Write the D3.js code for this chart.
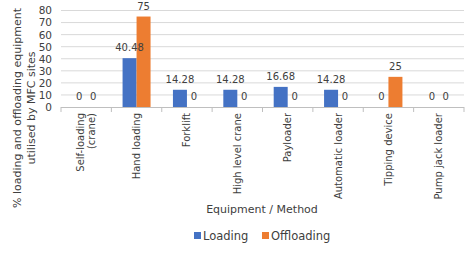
<!DOCTYPE html>
<html><head><meta charset="utf-8">
<script src="https://cdn.jsdelivr.net/npm/d3@7"></script>
<style>body{margin:0;background:#fff}svg{display:block}text{font-family:"DejaVu Sans",sans-serif;fill:#404040}</style>
</head><body><svg id="c" width="474" height="254"></svg>
<script>
const categories = [["Self-loading","(crane)"],["Hand loading"],["Forklift"],["High level crane"],["Payloader"],["Automatic loader"],["Tipping device"],["Pump jack loader"]];
const loading = [0, 40.48, 14.28, 14.28, 16.68, 14.28, 0, 0];
const offloading = [0, 75, 0, 0, 0, 0, 25, 0];
const yTicks = [0,10,20,30,40,50,60,70,80];
const seriesNames = ["Loading","Offloading"];
const colors = ["#4472C4","#ED7D31"];

const svg = d3.select("#c");
const x0 = 61, x1 = 464, yTop = 10.5, yBot = 107;
const ids = categories.map((d,i)=>i);
const x = d3.scaleBand().domain(ids).range([x0,x1]);
const xs = d3.scaleBand().domain([0,1]).range([0, x.bandwidth()]).paddingInner(0).paddingOuter(0.8);
const y = d3.scaleLinear().domain([0,80]).range([yBot,yTop]);

// gridlines
svg.append("g").selectAll("line").data(yTicks.slice(1)).join("line")
  .attr("x1",x0).attr("x2",x1).attr("y1",d=>y(d)).attr("y2",d=>y(d))
  .attr("stroke","#d9d9d9").attr("stroke-width",1);

// y axis
const ya = svg.append("g").attr("transform",`translate(${x0},0)`)
  .call(d3.axisLeft(y).tickValues(yTicks).tickSize(0).tickPadding(9));
ya.select(".domain").remove();
ya.selectAll("text").attr("font-size",10.5).attr("font-family","DejaVu Sans").attr("fill","#404040");

// bars
const series = [loading, offloading];
series.forEach((vals,s)=>{
  svg.append("g").selectAll("rect").data(vals).join("rect")
    .attr("x",(d,i)=>x(i)+xs(s)).attr("width",xs.bandwidth())
    .attr("y",d=>y(d)).attr("height",d=>y(0)-y(d)).attr("fill",colors[s]);
});
// value labels (drawn after all bars)
series.forEach((vals,s)=>{
  svg.append("g").selectAll("text").data(vals).join("text")
    .attr("x",(d,i)=>x(i)+xs(s)+xs.bandwidth()/2)
    .attr("y",d=>y(d)-7).attr("text-anchor","middle")
    .attr("font-size",10).text(d=>d);
});

// x axis baseline & ticks
const xa = svg.append("g");
xa.append("line").attr("x1",x0).attr("x2",x1).attr("y1",yBot+0.5).attr("y2",yBot+0.5).attr("stroke","#bfbfbf");
xa.selectAll(".tk").data(ids.concat([ids.length])).join("line")
  .attr("x1",i=>x0+i*x.step()).attr("x2",i=>x0+i*x.step())
  .attr("y1",yBot).attr("y2",yBot+5).attr("stroke","#bfbfbf");

// category labels
categories.forEach((lines,i)=>{
  const cx = x(i)+x.bandwidth()/2;
  const t = svg.append("text").attr("transform",`translate(${cx},113) rotate(-90)`)
    .attr("text-anchor","end").attr("font-size",10);
  const n = lines.length;
  lines.forEach((l,k)=>{
    t.append("tspan").attr("x",0).attr("y",(k-(n-1)/2)*11.5+3.5).text(l);
  });
});

// x title
svg.append("text").attr("x",262).attr("y",213).attr("text-anchor","middle").attr("font-size",11).text("Equipment / Method");

// y title
const yt = svg.append("text").attr("transform","translate(24,108) rotate(-90)").attr("text-anchor","middle").attr("font-size",11);
yt.append("tspan").attr("x",0).attr("y",-3).text("% loading and offloading equipment");
yt.append("tspan").attr("x",0).attr("y",11).text("utilised by MFC sites");

// legend
const lx = [194, 262];
seriesNames.forEach((n,s)=>{
  svg.append("rect").attr("x",lx[s]).attr("y",232).attr("width",7).attr("height",7).attr("fill",colors[s]);
  svg.append("text").attr("x",lx[s]+9).attr("y",240).attr("font-size",11.5).text(n);
});
</script></body></html>
